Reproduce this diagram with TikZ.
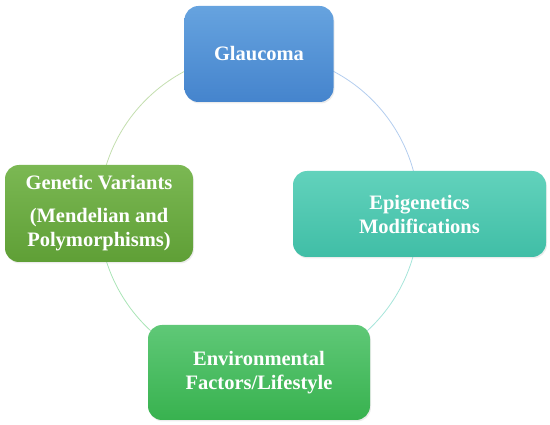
\documentclass[tikz,border=0pt]{standalone}
\usepackage{fontspec}
\setmainfont{Liberation Serif}
\usetikzlibrary{shadows}
\definecolor{bA}{HTML}{66A3DF}\definecolor{bB}{HTML}{4584CD}
\definecolor{tA}{HTML}{62D2BC}\definecolor{tB}{HTML}{40BEA6}
\definecolor{gA}{HTML}{7BB853}\definecolor{gB}{HTML}{5F9F36}
\definecolor{eA}{HTML}{5FC877}\definecolor{eB}{HTML}{38B24F}
\definecolor{lB}{HTML}{B3CDEE}\definecolor{lT}{HTML}{A6E5DA}
\definecolor{lE}{HTML}{A9E4B6}\definecolor{lG}{HTML}{C3DEAE}
\begin{document}
\begin{tikzpicture}[x=1pt,y=-1pt,
  box/.style={rounded corners=14pt, inner sep=0pt, align=center,
    text=white, font=\fontsize{20.5}{24}\selectfont\bfseries,
    drop shadow={shadow xshift=1pt,shadow yshift=-1.5pt,opacity=0.15}},
  ring/.style={line width=0.8pt}]
\useasboundingbox (0,0) rectangle (550,425);
\coordinate (c) at (259,213);
\draw[ring,lB] (c) ++(-90:160) arc[start angle=-90,end angle=0,radius=160];
\draw[ring,lT] (c) ++(0:160) arc[start angle=0,end angle=90,radius=160];
\draw[ring,lE] (c) ++(90:160) arc[start angle=90,end angle=180,radius=160];
\draw[ring,lG] (c) ++(180:160) arc[start angle=180,end angle=270,radius=160];
\node[box, top color=bA, bottom color=bB, minimum width=149pt, minimum height=96pt] (gl) at (259,54) {Glaucoma};
\node[box, top color=tA, bottom color=tB, minimum width=253pt, minimum height=86pt] (ep) at (419.5,214) {Epigenetics\\Modifications};
\node[box, top color=gA, bottom color=gB, minimum width=188pt, minimum height=97pt] (ge) at (99,213.5) {Genetic Variants\\[9pt](Mendelian and\\Polymorphisms)};
\node[box, top color=eA, bottom color=eB, minimum width=222pt, minimum height=95pt] (en) at (259,372.5) {Environmental\\Factors/Lifestyle};
\end{tikzpicture}
\end{document}
